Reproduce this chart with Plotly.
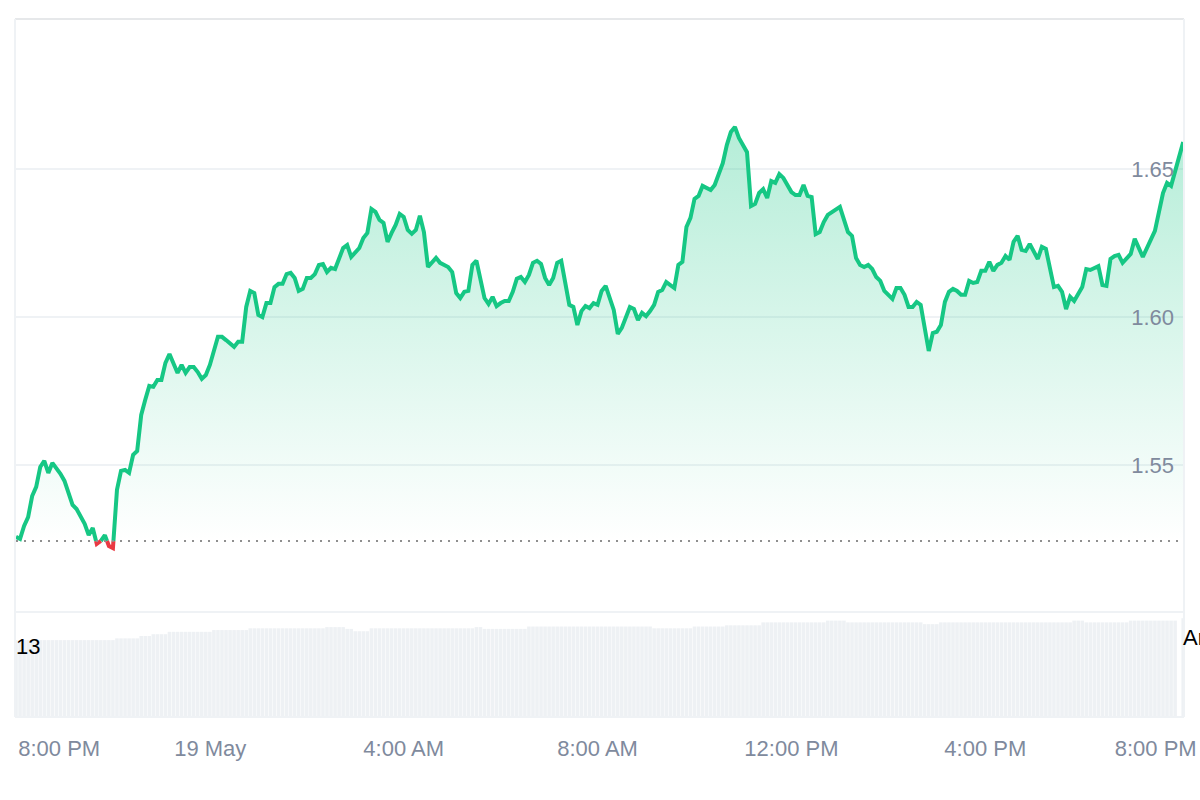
import numpy as np
import plotly.graph_objects as go

# 5-minute bar index (0 = 8:00 PM on 18 May) and price
step = [0, 1, 2, 3, 4, 5, 6, 7, 8, 9, 11, 12, 14, 15, 17, 18, 19, 20, 21, 22, 23, 24, 25, 26, 27, 28, 29, 30,
        31, 32, 33, 34, 35, 36, 37, 38, 40, 41, 42, 43, 44, 45, 46, 47, 48, 50, 51, 52, 54, 55, 56, 57, 58, 59,
        60, 61, 62, 63, 64, 65, 66, 67, 68, 69, 70, 71, 72, 73, 74, 75, 76, 77, 78, 79, 81, 82, 83, 85, 86, 87,
        88, 89, 90, 91, 92, 93, 94, 95, 96, 97, 98, 99, 100, 101, 102, 104, 105, 107, 108, 109, 110, 111, 112,
        113, 114, 116, 117, 118, 119, 120, 121, 122, 123, 124, 125, 126, 127, 128, 129, 130, 131, 132, 133, 134,
        135, 137, 138, 139, 140, 141, 142, 143, 144, 145, 146, 148, 149, 150, 151, 152, 153, 154, 155, 156, 157,
        158, 159, 160, 161, 163, 164, 165, 166, 167, 168, 169, 170, 172, 173, 174, 175, 176, 177, 178, 179, 181,
        182, 183, 184, 185, 186, 187, 188, 189, 190, 192, 193, 194, 195, 196, 197, 198, 199, 200, 201, 204, 206,
        207, 208, 209, 210, 211, 212, 213, 214, 215, 217, 218, 219, 220, 221, 222, 223, 224, 226, 227, 228, 229,
        230, 231, 232, 233, 234, 235, 236, 237, 238, 239, 240, 241, 242, 243, 244, 245, 246, 247, 248, 249, 250,
        251, 253, 254, 255, 257, 258, 259, 260, 261, 262, 264, 265, 266, 268, 269, 270, 271, 272, 273, 274, 276,
        277, 279, 282, 284, 285, 286, 289]

price = [1.5257, 1.5250, 1.5294, 1.5324, 1.5395, 1.5426, 1.5493, 1.5514, 1.5473, 1.5507, 1.5470, 1.5446, 1.5365,
         1.5351, 1.5301, 1.5263, 1.5287, 1.5233, 1.5243, 1.5263, 1.5226, 1.5219, 1.5416, 1.5480, 1.5483, 1.5473,
         1.5534, 1.5547, 1.5669, 1.5720, 1.5767, 1.5764, 1.5787, 1.5787, 1.5845, 1.5875, 1.5811, 1.5838, 1.5811,
         1.5831, 1.5831, 1.5814, 1.5791, 1.5804, 1.5838, 1.5933, 1.5933, 1.5922, 1.5899, 1.5916, 1.5916, 1.6034,
         1.6088, 1.6081, 1.6007, 1.6000, 1.6047, 1.6047, 1.6101, 1.6112, 1.6112, 1.6145, 1.6149, 1.6132, 1.6088,
         1.6095, 1.6132, 1.6132, 1.6145, 1.6176, 1.6179, 1.6152, 1.6166, 1.6162, 1.6233, 1.6243, 1.6203, 1.6233,
         1.6267, 1.6284, 1.6365, 1.6355, 1.6328, 1.6318, 1.6254, 1.6284, 1.6311, 1.6348, 1.6338, 1.6294, 1.6281,
         1.6294, 1.6342, 1.6287, 1.6169, 1.6200, 1.6183, 1.6169, 1.6152, 1.6081, 1.6064, 1.6085, 1.6088, 1.6176,
         1.6190, 1.6064, 1.6044, 1.6068, 1.6037, 1.6047, 1.6054, 1.6054, 1.6085, 1.6129, 1.6135, 1.6118, 1.6142,
         1.6183, 1.6190, 1.6179, 1.6132, 1.6108, 1.6132, 1.6183, 1.6190, 1.6041, 1.6034, 1.5973, 1.6020, 1.6037,
         1.6030, 1.6047, 1.6041, 1.6088, 1.6105, 1.6024, 1.5943, 1.5963, 1.5997, 1.6034, 1.6027, 1.5990, 1.6014,
         1.6003, 1.6020, 1.6041, 1.6085, 1.6091, 1.6118, 1.6098, 1.6176, 1.6186, 1.6304, 1.6335, 1.6399, 1.6409,
         1.6443, 1.6429, 1.6446, 1.6480, 1.6520, 1.6581, 1.6625, 1.6642, 1.6605, 1.6557, 1.6375, 1.6382, 1.6419,
         1.6432, 1.6402, 1.6459, 1.6453, 1.6483, 1.6470, 1.6422, 1.6412, 1.6412, 1.6446, 1.6409, 1.6405, 1.6280,
         1.6287, 1.6321, 1.6345, 1.6372, 1.6287, 1.6274, 1.6199, 1.6176, 1.6169, 1.6176, 1.6162, 1.6135, 1.6122,
         1.6088, 1.6061, 1.6098, 1.6098, 1.6075, 1.6034, 1.6034, 1.6051, 1.6041, 1.5885, 1.5946, 1.5950, 1.5973,
         1.6051, 1.6085, 1.6095, 1.6088, 1.6075, 1.6075, 1.6122, 1.6115, 1.6118, 1.6156, 1.6156, 1.6186, 1.6156,
         1.6176, 1.6183, 1.6206, 1.6193, 1.6254, 1.6274, 1.6227, 1.6223, 1.6247, 1.6196, 1.6237, 1.6230, 1.6101,
         1.6105, 1.6085, 1.6027, 1.6068, 1.6054, 1.6101, 1.6162, 1.6159, 1.6172, 1.6108, 1.6105, 1.6196, 1.6206,
         1.6210, 1.6183, 1.6213, 1.6264, 1.6203, 1.6291, 1.6419, 1.6453, 1.6443, 1.6591]

baseline = 1.5243

# volume comes in flat stretches: level and how many bars it lasts
vol_level = [13.0, 13.3, 13.7, 14.0, 14.4, 14.7, 15.0, 15.2, 14.9, 14.5, 15.0, 15.2, 14.9, 15.3, 15.0, 15.3, 15.5,
             16.0, 16.3, 16.0, 15.7, 16.0, 16.3, 16.0, 16.3, 0.0, 16.7]
vol_run = [25, 6, 3, 4, 11, 9, 19, 5, 2, 4, 26, 2, 11, 31, 10, 8, 9, 16, 5, 19, 4, 33, 3, 11, 12, 1, 1]

tick_pos = [10.7, 48.1, 96, 144, 192, 240, 282.2]
tick_text = ["8:00 PM", "19 May", "4:00 AM", "8:00 AM", "12:00 PM", "4:00 PM", "8:00 PM"]

GREEN = "#16c784"
RED = "#ea3943"
GRID = "#eff2f5"
LABEL = "#808a9d"
FONT = "Liberation Sans"

volume = np.repeat(vol_level, vol_run)

# add the points where the line crosses the baseline so the colours meet cleanly
xs, ys = [step[0]], [price[0]]
for i in range(1, len(step)):
    a, b = price[i - 1] - baseline, price[i] - baseline
    if a * b < 0:
        xs.append(step[i - 1] + (step[i] - step[i - 1]) * a / (a - b))
        ys.append(baseline)
    xs.append(step[i])
    ys.append(price[i])
xs = np.array(xs)
ys = np.array(ys)

fig = go.Figure()

fig.add_bar(x=np.arange(len(volume)), y=volume, yaxis="y2", marker=dict(color="#eef1f4", line_width=0),
            hoverinfo="skip")

# area under the line
fig.add_scatter(x=xs, y=np.full(len(xs), baseline), mode="lines", line=dict(width=0), hoverinfo="skip")
fig.add_scatter(
    x=xs, y=np.maximum(ys, baseline), mode="lines", line=dict(width=0), fill="tonexty",
    fillgradient=dict(type="vertical", start=baseline, stop=1.6642,
                      colorscale=[[0, "rgba(22,199,132,0)"], [1, "rgba(22,199,132,0.32)"]]),
    hoverinfo="skip",
)

fig.add_scatter(x=xs, y=np.where(ys >= baseline, ys, None), mode="lines",
                line=dict(color=GREEN, width=4), connectgaps=False)
fig.add_scatter(x=xs, y=np.where(ys <= baseline, ys, None), mode="lines",
                line=dict(color=RED, width=4), connectgaps=False)

fig.update_layout(
    width=1200, height=800,
    margin=dict(l=15, r=16, t=19, b=83),
    paper_bgcolor="white", plot_bgcolor="white",
    showlegend=False, bargap=0.12,
    font=dict(family=FONT, size=22, color=LABEL),
    xaxis=dict(range=[-0.25, 289.2], anchor="y2", showgrid=False, zeroline=False, automargin=False,
               tickmode="array", tickvals=tick_pos, ticktext=tick_text, ticklabeloverflow="allow",
               ticks="outside", ticklen=12, tickcolor="rgba(0,0,0,0)", tickfont=dict(size=22, color=LABEL)),
    yaxis=dict(domain=[0.1504, 1], range=[1.5003, 1.7007], side="right", anchor="x", automargin=False,
               ticklabelposition="inside", tickvals=[1.55, 1.60, 1.65], tickformat=".2f",
               showgrid=True, gridcolor=GRID, gridwidth=2, zeroline=False, ticklabelstandoff=7,
               ticklabeloverflow="allow", tickfont=dict(size=22, color=LABEL)),
    yaxis2=dict(domain=[0, 0.1504], range=[0, 17.75], visible=False),
    shapes=[
        dict(type="line", xref="x", yref="y", x0=0, x1=289.2, y0=baseline, y1=baseline,
             line=dict(color="#8f8f8f", width=2, dash="2px,6px")),
        dict(type="line", xref="paper", yref="paper", x0=0, x1=1, y0=1, y1=1, line=dict(color="#e6e8ea", width=2)),
        dict(type="line", xref="paper", yref="paper", x0=0, x1=1, y0=0.1504, y1=0.1504,
             line=dict(color=GRID, width=2)),
        dict(type="line", xref="paper", yref="paper", x0=0, x1=1, y0=0, y1=0, line=dict(color=GRID, width=2)),
        dict(type="line", xref="paper", yref="paper", x0=0, x1=0, y0=0, y1=1, line=dict(color=GRID, width=2)),
        dict(type="line", xref="paper", yref="paper", x0=1, x1=1, y0=0, y1=1, line=dict(color=GRID, width=2)),
    ],
    annotations=[
        dict(text="13", xref="paper", yref="paper", x=-0.001, y=0.1007, xanchor="left", yanchor="middle",
             showarrow=False, font=dict(size=22, color="black")),
        dict(text="Ar", xref="paper", yref="paper", x=0.9972, y=0.1138, xanchor="left", yanchor="middle",
             showarrow=False, font=dict(size=22, color="black")),
    ],
)

fig.write_html("out.html", config=dict(displayModeBar=False), post_script="document.body.style.margin='0';")
